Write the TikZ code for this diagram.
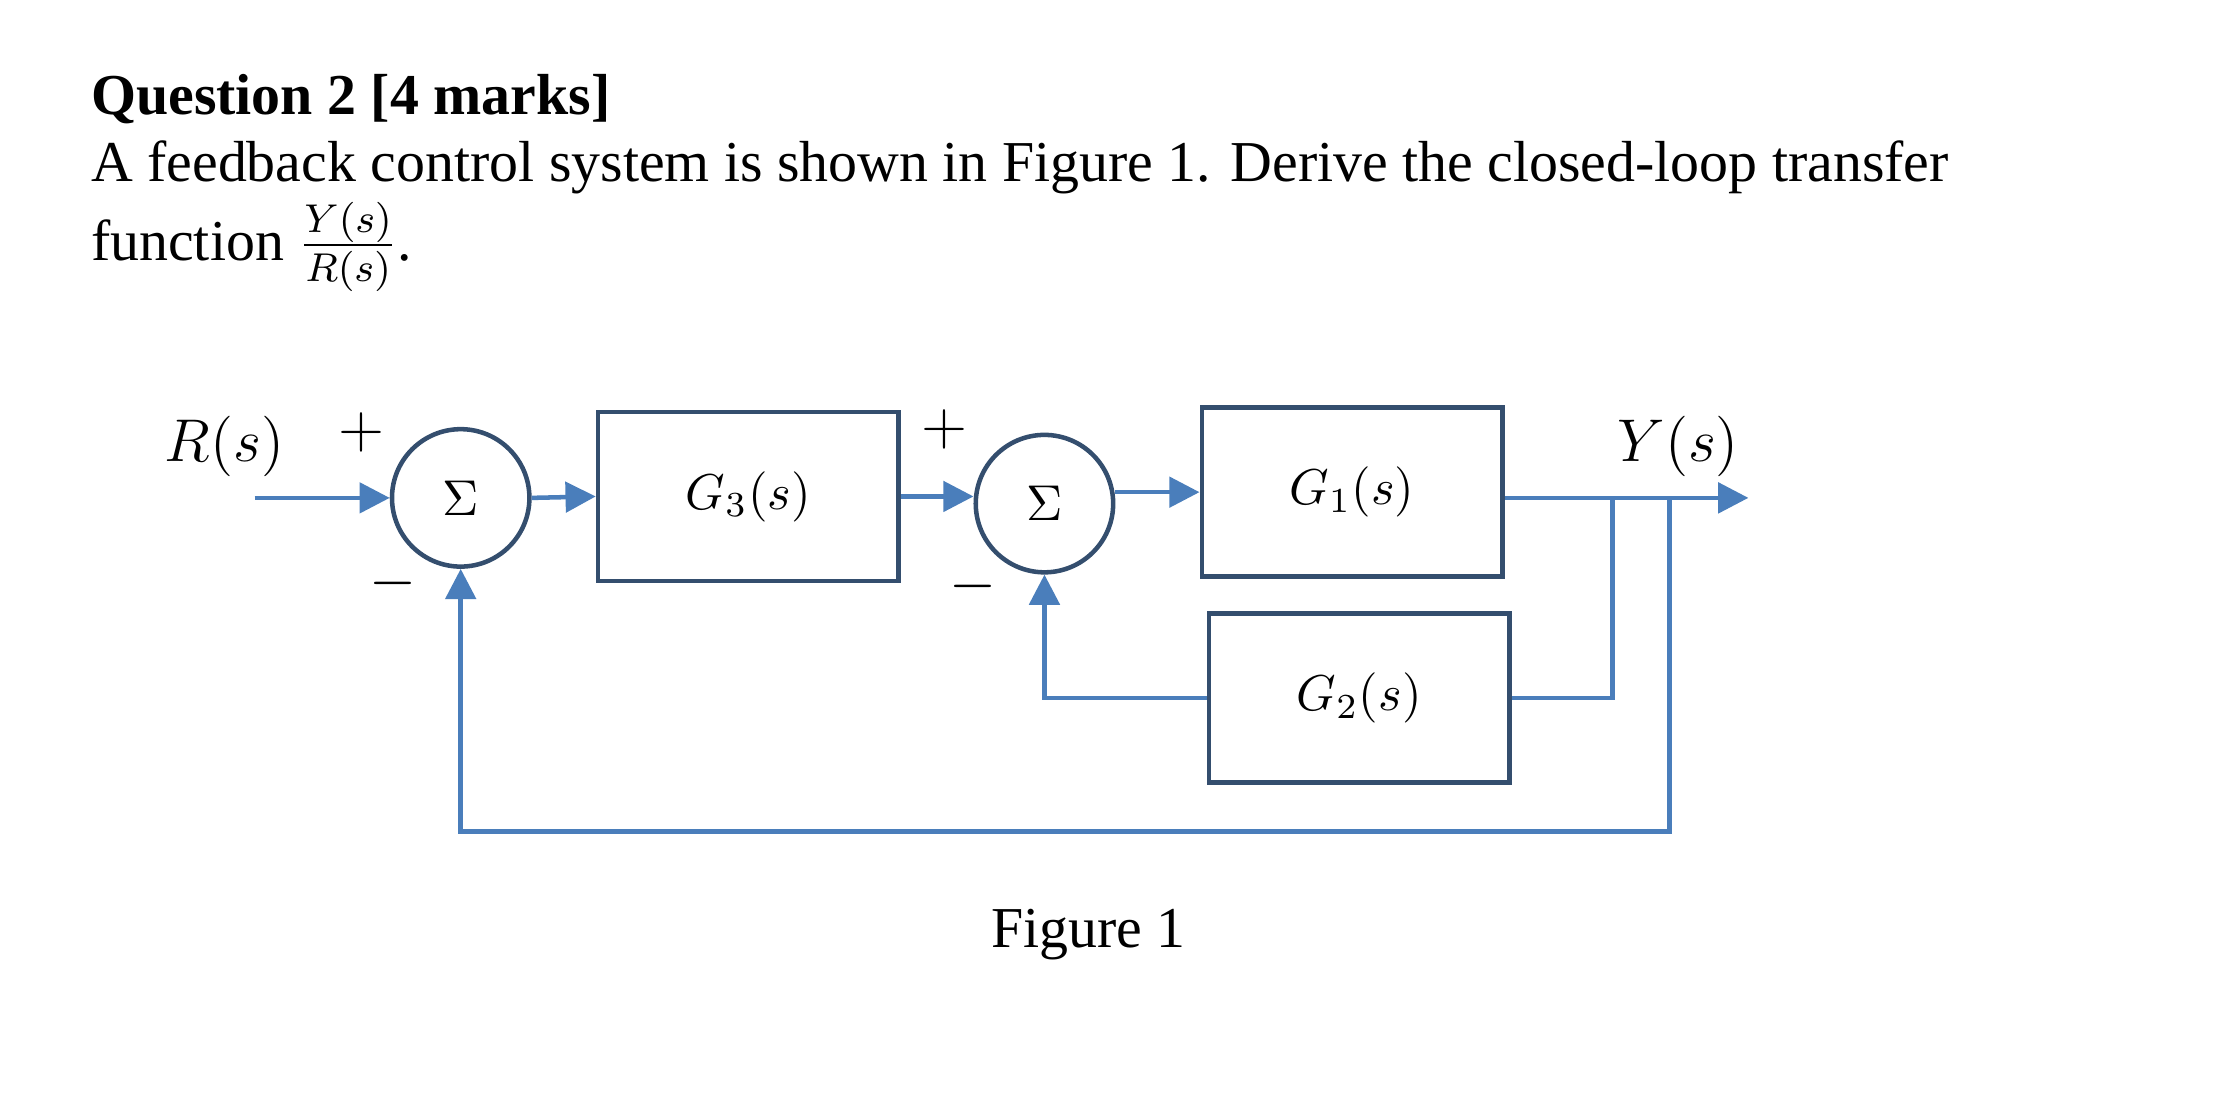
\documentclass[tikz,border=0pt]{standalone}
\usepackage{fontspec}
\setmainfont{Liberation Serif}
\usetikzlibrary{arrows.meta}
\definecolor{wireblue}{RGB}{74,126,187}
\definecolor{edgeblue}{RGB}{52,78,110}
\begin{document}
\begin{tikzpicture}[x=0.01cm,y=-0.01cm,
  wire/.style={draw=wireblue,line width=0.9pt},
  arr/.style={wire,-{Triangle[length=6pt,width=6pt]}},
  blk/.style={draw=edgeblue,line width=0.9pt,minimum width=2.1cm,minimum height=1.18cm},
  sum/.style={circle,draw=edgeblue,line width=0.9pt,minimum size=0.96cm,inner sep=0pt},
  txt/.style={font=\fontsize{11.5pt}{13pt}\selectfont,anchor=base west,inner sep=0pt},
  sign/.style={font=\fontsize{12pt}{13pt}\selectfont}]
\useasboundingbox (0,0) rectangle (1560,771.6);
% question text
\node[txt,font=\bfseries\fontsize{11.5pt}{13pt}\selectfont] (q) at (63,80) {Question 2 [4 marks]};
\node[txt] (l1) at (63,127) {A feedback control system is shown in Figure 1. Derive the closed-loop transfer};
\node[txt] (l2) at (63,182) {function $\frac{Y(s)}{R(s)}$.};
% blocks
\node[sum] (s1) at (322,348) {$\Sigma$};
\node[blk] (g3) at (523,347) {$G_3(s)$};
\node[sum] (s2) at (730,352) {$\Sigma$};
\node[blk] (g1) at (945,344) {$G_1(s)$};
\node[blk] (g2) at (950,488) {$G_2(s)$};
\coordinate (in) at (178,348);
\coordinate (out) at (1222,348);
\coordinate (b1) at (1127,348);
\coordinate (b2) at (1167,348);
\node[sign] (rl) at (157,312) {$R(s)$};
\node[sign] (yl) at (1173,312) {$Y(s)$};
\node[sign] (p1) at (253,302) {$+$};
\node[sign] (m1) at (275,408) {$-$};
\node[sign] (p2) at (660,300) {$+$};
\node[sign] (m2) at (680,410) {$-$};
\node[txt] (fig) at (692,662) {Figure 1};
% connectors
\draw[arr] (in) -- (s1.west);
\draw[arr] (s1.east) -- (g3.west);
\draw[arr] (g3.east) -- (s2.west |- g3.east);
\draw[arr] (s2.east |- g1.west) -- (g1.west);
\draw[arr] (g1.east |- out) -- (out);
\draw[wire] (b1) |- (g2.east);
\draw[arr] (g2.west) -| (s2.south);
\draw[arr] (b2) -- ++(0,233) -| (s1.south);
\end{tikzpicture}
\end{document}
